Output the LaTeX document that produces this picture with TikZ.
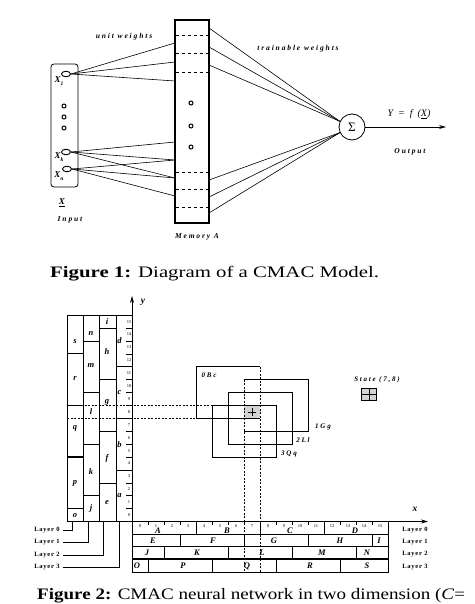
\documentclass[tikz,border=0pt]{standalone}
\usepackage{fontspec}
\setmainfont{Liberation Serif}
\newfontfamily\spc[LetterSpace=25]{Liberation Serif}
\newfontfamily\spb[LetterSpace=12]{Liberation Serif}
\usetikzlibrary{shapes.geometric,arrows.meta}
\begin{document}
\begin{tikzpicture}[x=1pt,y=-1pt,
  tl/.style={font=\spc\bfseries\itshape\fontsize{7.5}{8}\selectfont, inner sep=0},
  gl/.style={font=\bfseries\itshape\fontsize{8.5}{8.5}\selectfont, inner sep=0},
  nl/.style={font=\fontsize{4.5}{5}\selectfont, inner sep=0},
  ll/.style={font=\spb\bfseries\fontsize{6.5}{7}\selectfont, inner sep=0},
  bl/.style={font=\spc\bfseries\itshape\fontsize{7}{8}\selectfont, inner sep=0},
  ln/.style={line width=0.6pt},
  thk/.style={line width=1.1pt},
  dsh/.style={line width=0.6pt, dash pattern=on 2pt off 1.5pt},
  ring/.style={circle, draw, line width=1pt, minimum size=4pt, inner sep=0},
  inp/.style={ellipse, draw, line width=0.9pt, minimum width=9pt, minimum height=5.5pt, inner sep=0},
  arr/.style={line width=0.8pt, -{Stealth[length=7pt,width=4pt]}}
]
\useasboundingbox (0,0) rectangle (474,604);
\clip (0,0) rectangle (474,604);

% ================= Figure 1 =================
\node[draw, line width=0.8pt, rounded corners=3pt, minimum width=27pt, minimum height=123pt, inner sep=0] (inbox) at (64.5,125.5) {};
\node[inp] (x1) at (66,74) {};
\node[inp] (xk) at (66,152) {};
\node[inp] (xn) at (67,169) {};
\foreach \y/\n in {106/a,117/b,128/c} \node[ring] (id\n) at (64,\y) {};
\node[tl, font=\bfseries\itshape\fontsize{9}{9}\selectfont] (lx1) at (59,81) {X\raisebox{-3pt}{\fontsize{5.5}{5.5}\selectfont 1}};
\node[tl, font=\bfseries\itshape\fontsize{9}{9}\selectfont] (lxk) at (59,157) {X\raisebox{-3pt}{\fontsize{5.5}{5.5}\selectfont k}};
\node[tl, font=\bfseries\itshape\fontsize{9}{9}\selectfont] (lxn) at (59,176) {X\raisebox{-3pt}{\fontsize{5.5}{5.5}\selectfont n}};

\node[draw, line width=1.2pt, minimum width=34pt, minimum height=203pt, inner sep=0] (mem) at (192,121.5) {};
\foreach \y in {35,53,72,172,189,207} \draw[dashed, line width=0.5pt] (175.5,\y) -- (208.5,\y);
\foreach \y/\n in {103/a,126/b,147/c} \node[ring] (md\n) at (191,\y) {};

\foreach \n/\y in {1/43,2/62,3/81,4/142,5/160,6/178,7/196} \coordinate (mL\n) at (175,\y);
\foreach \n/\y in {1/28,2/47,3/65,4/180,5/197,6/213} \coordinate (mR\n) at (209,\y);
\foreach \n in {1,2,3} \draw[ln] (x1.east) -- (mL\n);
\foreach \n in {4,5,6} \draw[ln] (xk.east) -- (mL\n);
\foreach \n in {5,6,7} \draw[ln] (xn.east) -- (mL\n);

\node[circle, draw, line width=0.8pt, minimum size=26pt, inner sep=0, font=\fontsize{13}{13}\selectfont] (sig) at (352,127) {Σ};
\foreach \n in {1,2,3} \draw[ln] (mR\n) -- (sig.155);
\foreach \n in {4,5,6} \draw[ln] (mR\n) -- (sig.205);
\coordinate (yout) at (446,127);
\draw[arr] (sig.east) -- (yout);

\node[tl] (tuw) at (124,37) {unit weights};
\node[tl] (ttw) at (298,49) {trainable weights};
\node[tl] (tmem) at (197,237) {Memory A};
\node[tl, font=\bfseries\itshape\fontsize{9}{9}\selectfont] (tX) at (62,203) {\underline{X}};
\node[tl] (tin) at (70,220) {Input};
\node[tl, font=\spc\itshape\fontsize{10}{10}\selectfont] (tY) at (409,114) {Y = f (\underline{X})};
\node[tl] (tout) at (410,152) {Output};

\node[anchor=base west, inner sep=0, font=\fontsize{16}{16}\selectfont] (cap1) at (50,277) {\scalebox{1.3}[1]{\textbf{Figure 1:} Diagram of a CMAC Model.}};

% ================= Figure 2 =================
% left column
\draw[ln] (67,315.1) rectangle (132,521.5);
\foreach \x in {83,99.5,116} \draw[ln] (\x,315.1) -- (\x,521.5);
\foreach \y in {469.9,418.3,366.7} \draw[ln] (116,\y) -- (132,\y);
\foreach \v in {1,...,15} \draw[ln] (126,{521.5-12.9*\v}) -- (132,{521.5-12.9*\v});
\foreach \v in {0,...,15} \node[nl] (cn\v) at (129,{521.5-12.9*\v-6.45}) {\v};
\foreach \y in {482.8,431.2,379.6,328.0} \draw[ln] (99.5,\y) -- (116,\y);
\foreach \y in {495.7,444.1,392.5,340.9} \draw[ln] (83,\y) -- (99.5,\y);
\foreach \y in {508.6,457.0,405.4,353.8} \draw[thk] (67,\y) -- (83,\y);
\foreach \t/\y in {a/495.7,b/444.1,c/392.5,d/340.9} \node[gl] (c0\t) at (119.5,\y) {\t};
\foreach \t/\y in {e/503,f/458,g/402,h/352,i/322} \node[gl] (c1\t) at (107,\y) {\t};
\foreach \t/\y in {j/508,k/472,l/412,m/365,n/333} \node[gl] (c2\t) at (91,\y) {\t};
\foreach \t/\y in {o/516,p/483,q/428,r/378,s/342} \node[gl] (c3\t) at (75,\y) {\t};

% bottom rows
\draw[ln] (132,521.5) rectangle (388,572.5);
\draw[ln] (132,534) -- (388,534);
\draw[ln] (132,546.5) -- (388,546.5);
\draw[thk] (132,559) -- (388,559);
\draw[thk] (132,572.5) -- (388,572.5);
\foreach \u in {1,...,15} \draw[ln] ({132+16*\u},521.5) -- ({132+16*\u},524.5);
\foreach \x in {196,260,324} \draw[ln] (\x,521.5) -- (\x,534);
\foreach \u in {0,...,15} \node[nl] (rn\u) at ({140+16*\u},526) {\u};
\foreach \t/\x in {A/158,B/227,C/290,D/355} \node[gl] (r0\t) at (\x,531) {\t};
\foreach \x in {180,244,308,372} \draw[ln] (\x,534) -- (\x,546.5);
\foreach \t/\x in {E/153,F/213,G/274,H/340,I/379} \node[gl] (r1\t) at (\x,540.5) {\t};
\foreach \x in {164,228,292,356} \draw[ln] (\x,546.5) -- (\x,559);
\foreach \t/\x in {J/147,K/197,L/262,M/322,N/367} \node[gl] (r2\t) at (\x,553) {\t};
\foreach \x in {148,212,276,340} \draw[ln] (\x,559) -- (\x,572.5);
\foreach \t/\x in {O/137,P/183,Q/247,R/310,S/367} \node[gl] (r3\t) at (\x,566) {\t};

% axes
\coordinate (org) at (132,521.5);
\coordinate (xend) at (428,521.5);
\coordinate (yend) at (132,296);
\draw[arr] (org) -- (xend);
\draw[arr] (org) -- (yend);
\node[gl, font=\bfseries\itshape\fontsize{9.5}{9.5}\selectfont] (lx) at (415,509) {x};
\node[gl, font=\bfseries\itshape\fontsize{9.5}{9.5}\selectfont] (ly) at (143,302) {y};

% receptive field boxes
\fill[gray!35] (244,405.4) rectangle (260,418.3);
\draw[ln] (248,411.9) -- (256,411.9) (252,408) -- (252,416);
\draw[ln] (260,366.7) -- (196,366.7) -- (196,418.3) -- (260,418.3);
\draw[ln] (244,379.6) -- (308,379.6) -- (308,431.2) -- (244,431.2);
\draw[ln] (228,392.5) rectangle (292,444.1);
\draw[ln] (212,405.4) rectangle (276,457.0);
\draw[dsh] (244,379.6) -- (244,572.5);
\draw[dsh] (260,366.7) -- (260,572.5);
\draw[dsh] (67,405.4) -- (212,405.4);
\draw[dsh] (67,418.3) -- (196,418.3);
\node[bl] (b0) at (209,375) {0Bc};
\node[bl] (b1) at (323,427) {1Gg};
\node[bl] (b2) at (303,440) {2Ll};
\node[bl] (b3) at (289,454) {3Qq};

\node[bl] (stl) at (377,380) {State (7,8)};
\node[draw, ln, fill=gray!35, minimum width=15pt, minimum height=12pt, inner sep=0] (sti) at (369,394.5) {};
\draw[line width=0.4pt] (sti.north) -- (sti.south) (sti.west) -- (sti.east);

% layer labels
\node[ll] (L0) at (47,530) {Layer 0};
\node[ll] (L1) at (47,542) {Layer 1};
\node[ll] (L2) at (47,555) {Layer 2};
\node[ll] (L3) at (47,567) {Layer 3};
\coordinate (k0) at (72,521.5);
\coordinate (k1) at (88,521.5);
\coordinate (k2) at (103,521.5);
\coordinate (k3) at (119,521.5);
\draw[ln, shorten <=3pt] (L0.east) -| (k0);
\draw[ln, shorten <=3pt] (L1.east) -| (k1);
\draw[ln, shorten <=3pt] (L2.east) -| (k2);
\draw[ln, shorten <=3pt] (L3.east) -| (k3);
\node[ll] (R0) at (415,530) {Layer 0};
\node[ll] (R1) at (415,542) {Layer 1};
\node[ll] (R2) at (415,554) {Layer 2};
\node[ll] (R3) at (415,567) {Layer 3};

\node[anchor=base west, inner sep=0, font=\fontsize{16}{16}\selectfont] (cap2) at (37,599) {\scalebox{1.19}[1]{\textbf{Figure 2:} CMAC neural network in two dimension (\textit{C}=}};
\end{tikzpicture}
\end{document}
